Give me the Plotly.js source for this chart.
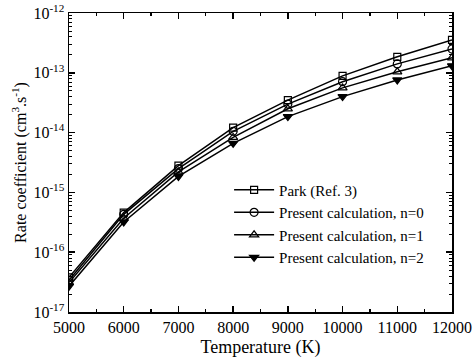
<!DOCTYPE html>
<html>
<head>
<meta charset="utf-8">
<script src="https://cdn.plot.ly/plotly-3.0.1.min.js"></script>
<style>html,body{margin:0;padding:0;background:#fff;}#chart{width:474px;height:360px;}</style>
</head>
<body>
<div id="chart"></div>
<script>
var temperature = [5000, 6000, 7000, 8000, 9000, 10000, 11000, 12000];
var park = [3.8e-17, 4.6e-16, 2.8e-15, 1.21e-14, 3.5e-14, 8.9e-14, 1.85e-13, 3.55e-13];
var calcN0 = [3.4e-17, 4.3e-16, 2.5e-15, 1.05e-14, 3.0e-14, 7.1e-14, 1.41e-13, 2.5e-13];
var calcN1 = [3.1e-17, 3.7e-16, 2.2e-15, 8.3e-15, 2.5e-14, 5.6e-14, 1.04e-13, 1.78e-13];
var calcN2 = [2.7e-17, 3.2e-16, 1.85e-15, 6.6e-15, 1.85e-14, 4.0e-14, 7.6e-14, 1.31e-13];
var seriesNames = ['Park (Ref. 3)', 'Present calculation, n=0', 'Present calculation, n=1', 'Present calculation, n=2'];
var yTickVals = [1e-17, 1e-16, 1e-15, 1e-14, 1e-13, 1e-12];
var yTickText = ['10<sup>-17</sup>', '10<sup>-16</sup>', '10<sup>-15</sup>', '10<sup>-14</sup>', '10<sup>-13</sup>', '10<sup>-12</sup>'];
var xTickVals = [5000, 6000, 7000, 8000, 9000, 10000, 11000, 12000];
var xTickText = ['5000', '6000', '7000', '8000', '9000', '10000', '11000', '12000'];

var yMinor = [];
for (var e = -17; e < -12; e++) {
  for (var m = 2; m <= 9; m++) { yMinor.push(m * Math.pow(10, e)); }
}
var xMinor = [];
for (var v = 5500; v < 12000; v += 1000) { xMinor.push(v); }

var symbols = ['square-open', 'circle-open', 'triangle-up-open', 'triangle-down'];
var sizes = [7, 8, 8, 8];
var data = [park, calcN0, calcN1, calcN2];
var traces = data.map(function (ys, i) {
  return {
    x: temperature, y: ys, name: seriesNames[i], type: 'scatter', mode: 'lines+markers',
    line: {color: '#000', width: 1.5},
    marker: {symbol: symbols[i], size: sizes[i], color: '#000', line: {color: '#000', width: 1.2}}
  };
});

var font = 'Liberation Serif, Times New Roman, serif';
var layout = {
  width: 474, height: 360,
  margin: {l: 69, r: 22, t: 13, b: 48},
  paper_bgcolor: '#fff', plot_bgcolor: '#fff',
  font: {family: font, color: '#000', size: 15},
  showlegend: true,
  legend: {x: 0.418, y: 0.463, xanchor: 'left', yanchor: 'top', bgcolor: 'rgba(0,0,0,0)',
    font: {family: font, size: 15, color: '#000'}, tracegroupgap: 0, itemwidth: 40},
  xaxis: {
    range: [5000, 12000], tickmode: 'array', tickvals: xTickVals, ticktext: xTickText,
    ticks: 'inside', ticklen: 6, tickwidth: 1.5, tickcolor: '#000',
    showline: true, linecolor: '#000', linewidth: 1.5, mirror: 'ticks',
    showgrid: false, zeroline: false,
    tickfont: {family: font, size: 16},
    minor: {tickmode: 'array', tickvals: xMinor, ticks: 'inside', ticklen: 3, tickcolor: '#000', tickwidth: 1.2, showgrid: false},
    title: {text: 'Temperature (K)', font: {family: font, size: 18}, standoff: 5}
  },
  yaxis: {
    type: 'log', range: [-17, -12], tickmode: 'array', tickvals: yTickVals, ticktext: yTickText,
    ticks: 'inside', ticklen: 6, tickwidth: 1.5, tickcolor: '#000',
    showline: true, linecolor: '#000', linewidth: 1.5, mirror: 'ticks',
    showgrid: false, zeroline: false,
    tickfont: {family: font, size: 16},
    minor: {tickmode: 'array', tickvals: yMinor, ticks: 'inside', ticklen: 3, tickcolor: '#000', tickwidth: 1, showgrid: false},
    title: {text: 'Rate coefficient (cm<sup>3</sup>.s<sup>-1</sup>)', font: {family: font, size: 16}, standoff: 3}
  }
};
Plotly.newPlot('chart', traces, layout, {displayModeBar: false, staticPlot: true});
</script>
</body>
</html>
